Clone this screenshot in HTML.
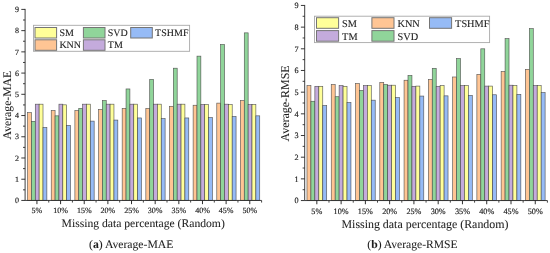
<!DOCTYPE html>
<html><head><meta charset="utf-8"><title>Figure</title>
<style>
html,body{margin:0;padding:0;background:#fff;}
body{width:550px;height:253px;overflow:hidden;}
svg{display:block;}
text{text-rendering:geometricPrecision;stroke:#1c1c1c;stroke-width:0.06px;font-family:"Liberation Serif","Times New Roman",serif;fill:#1c1c1c;}
</style></head><body>
<svg width="550" height="253" viewBox="0 0 550 253">
<rect width="550" height="253" fill="#fff"/>
<rect x="27.58" y="112.66" width="3.86" height="87.79" fill="#FFC594" stroke="#404040" stroke-opacity="0.85" stroke-width="0.65"/>
<rect x="31.44" y="121.34" width="3.86" height="79.11" fill="#90D59A" stroke="#404040" stroke-opacity="0.85" stroke-width="0.65"/>
<rect x="35.30" y="104.19" width="3.86" height="96.26" fill="#C4ABDC" stroke="#404040" stroke-opacity="0.85" stroke-width="0.65"/>
<rect x="39.15" y="104.19" width="3.86" height="96.26" fill="#FFFF99" stroke="#404040" stroke-opacity="0.85" stroke-width="0.65"/>
<rect x="43.01" y="127.47" width="3.86" height="72.98" fill="#96BBF6" stroke="#404040" stroke-opacity="0.85" stroke-width="0.65"/>
<rect x="51.23" y="110.54" width="3.86" height="89.91" fill="#FFC594" stroke="#404040" stroke-opacity="0.85" stroke-width="0.65"/>
<rect x="55.09" y="115.83" width="3.86" height="84.62" fill="#90D59A" stroke="#404040" stroke-opacity="0.85" stroke-width="0.65"/>
<rect x="58.95" y="104.19" width="3.86" height="96.26" fill="#C4ABDC" stroke="#404040" stroke-opacity="0.85" stroke-width="0.65"/>
<rect x="62.80" y="104.83" width="3.86" height="95.62" fill="#FFFF99" stroke="#404040" stroke-opacity="0.85" stroke-width="0.65"/>
<rect x="66.66" y="125.36" width="3.86" height="75.09" fill="#96BBF6" stroke="#404040" stroke-opacity="0.85" stroke-width="0.65"/>
<rect x="74.88" y="110.54" width="3.86" height="89.91" fill="#FFC594" stroke="#404040" stroke-opacity="0.85" stroke-width="0.65"/>
<rect x="78.74" y="108.42" width="3.86" height="92.03" fill="#90D59A" stroke="#404040" stroke-opacity="0.85" stroke-width="0.65"/>
<rect x="82.60" y="104.19" width="3.86" height="96.26" fill="#C4ABDC" stroke="#404040" stroke-opacity="0.85" stroke-width="0.65"/>
<rect x="86.45" y="104.19" width="3.86" height="96.26" fill="#FFFF99" stroke="#404040" stroke-opacity="0.85" stroke-width="0.65"/>
<rect x="90.31" y="121.12" width="3.86" height="79.33" fill="#96BBF6" stroke="#404040" stroke-opacity="0.85" stroke-width="0.65"/>
<rect x="98.53" y="109.48" width="3.86" height="90.97" fill="#FFC594" stroke="#404040" stroke-opacity="0.85" stroke-width="0.65"/>
<rect x="102.39" y="100.59" width="3.86" height="99.86" fill="#90D59A" stroke="#404040" stroke-opacity="0.85" stroke-width="0.65"/>
<rect x="106.25" y="104.19" width="3.86" height="96.26" fill="#C4ABDC" stroke="#404040" stroke-opacity="0.85" stroke-width="0.65"/>
<rect x="110.10" y="104.19" width="3.86" height="96.26" fill="#FFFF99" stroke="#404040" stroke-opacity="0.85" stroke-width="0.65"/>
<rect x="113.96" y="120.07" width="3.86" height="80.38" fill="#96BBF6" stroke="#404040" stroke-opacity="0.85" stroke-width="0.65"/>
<rect x="122.18" y="108.42" width="3.86" height="92.03" fill="#FFC594" stroke="#404040" stroke-opacity="0.85" stroke-width="0.65"/>
<rect x="126.04" y="88.95" width="3.86" height="111.50" fill="#90D59A" stroke="#404040" stroke-opacity="0.85" stroke-width="0.65"/>
<rect x="129.90" y="104.19" width="3.86" height="96.26" fill="#C4ABDC" stroke="#404040" stroke-opacity="0.85" stroke-width="0.65"/>
<rect x="133.75" y="104.19" width="3.86" height="96.26" fill="#FFFF99" stroke="#404040" stroke-opacity="0.85" stroke-width="0.65"/>
<rect x="137.61" y="117.95" width="3.86" height="82.50" fill="#96BBF6" stroke="#404040" stroke-opacity="0.85" stroke-width="0.65"/>
<rect x="145.83" y="108.42" width="3.86" height="92.03" fill="#FFC594" stroke="#404040" stroke-opacity="0.85" stroke-width="0.65"/>
<rect x="149.69" y="79.43" width="3.86" height="121.02" fill="#90D59A" stroke="#404040" stroke-opacity="0.85" stroke-width="0.65"/>
<rect x="153.55" y="104.19" width="3.86" height="96.26" fill="#C4ABDC" stroke="#404040" stroke-opacity="0.85" stroke-width="0.65"/>
<rect x="157.40" y="104.19" width="3.86" height="96.26" fill="#FFFF99" stroke="#404040" stroke-opacity="0.85" stroke-width="0.65"/>
<rect x="161.26" y="118.58" width="3.86" height="81.87" fill="#96BBF6" stroke="#404040" stroke-opacity="0.85" stroke-width="0.65"/>
<rect x="169.48" y="106.31" width="3.86" height="94.14" fill="#FFC594" stroke="#404040" stroke-opacity="0.85" stroke-width="0.65"/>
<rect x="173.34" y="68.21" width="3.86" height="132.24" fill="#90D59A" stroke="#404040" stroke-opacity="0.85" stroke-width="0.65"/>
<rect x="177.20" y="104.19" width="3.86" height="96.26" fill="#C4ABDC" stroke="#404040" stroke-opacity="0.85" stroke-width="0.65"/>
<rect x="181.05" y="104.19" width="3.86" height="96.26" fill="#FFFF99" stroke="#404040" stroke-opacity="0.85" stroke-width="0.65"/>
<rect x="184.91" y="117.95" width="3.86" height="82.50" fill="#96BBF6" stroke="#404040" stroke-opacity="0.85" stroke-width="0.65"/>
<rect x="193.13" y="105.25" width="3.86" height="95.20" fill="#FFC594" stroke="#404040" stroke-opacity="0.85" stroke-width="0.65"/>
<rect x="196.99" y="56.14" width="3.86" height="144.31" fill="#90D59A" stroke="#404040" stroke-opacity="0.85" stroke-width="0.65"/>
<rect x="200.85" y="104.61" width="3.86" height="95.84" fill="#C4ABDC" stroke="#404040" stroke-opacity="0.85" stroke-width="0.65"/>
<rect x="204.70" y="104.61" width="3.86" height="95.84" fill="#FFFF99" stroke="#404040" stroke-opacity="0.85" stroke-width="0.65"/>
<rect x="208.56" y="117.53" width="3.86" height="82.92" fill="#96BBF6" stroke="#404040" stroke-opacity="0.85" stroke-width="0.65"/>
<rect x="216.78" y="103.13" width="3.86" height="97.32" fill="#FFC594" stroke="#404040" stroke-opacity="0.85" stroke-width="0.65"/>
<rect x="220.64" y="44.50" width="3.86" height="155.95" fill="#90D59A" stroke="#404040" stroke-opacity="0.85" stroke-width="0.65"/>
<rect x="224.50" y="104.19" width="3.86" height="96.26" fill="#C4ABDC" stroke="#404040" stroke-opacity="0.85" stroke-width="0.65"/>
<rect x="228.35" y="104.61" width="3.86" height="95.84" fill="#FFFF99" stroke="#404040" stroke-opacity="0.85" stroke-width="0.65"/>
<rect x="232.21" y="116.47" width="3.86" height="83.98" fill="#96BBF6" stroke="#404040" stroke-opacity="0.85" stroke-width="0.65"/>
<rect x="240.43" y="100.59" width="3.86" height="99.86" fill="#FFC594" stroke="#404040" stroke-opacity="0.85" stroke-width="0.65"/>
<rect x="244.29" y="32.86" width="3.86" height="167.59" fill="#90D59A" stroke="#404040" stroke-opacity="0.85" stroke-width="0.65"/>
<rect x="248.15" y="104.61" width="3.86" height="95.84" fill="#C4ABDC" stroke="#404040" stroke-opacity="0.85" stroke-width="0.65"/>
<rect x="252.00" y="104.61" width="3.86" height="95.84" fill="#FFFF99" stroke="#404040" stroke-opacity="0.85" stroke-width="0.65"/>
<rect x="255.86" y="115.83" width="3.86" height="84.62" fill="#96BBF6" stroke="#404040" stroke-opacity="0.85" stroke-width="0.65"/>
<path d="M25.1 8.9V200.45H261.6" fill="none" stroke="#2a2a2a" stroke-width="0.9"/>
<path d="M21.3 200.45H25.1" stroke="#222" stroke-width="0.9"/>
<text x="19.1" y="203.15" text-anchor="end" style="stroke-width:.16px" font-size="8.0">0</text>
<path d="M23.0 189.84H25.1" stroke="#222" stroke-width="0.85"/>
<path d="M21.3 179.22H25.1" stroke="#222" stroke-width="0.9"/>
<text x="19.1" y="181.92" text-anchor="end" style="stroke-width:.16px" font-size="8.0">1</text>
<path d="M23.0 168.61H25.1" stroke="#222" stroke-width="0.85"/>
<path d="M21.3 157.99H25.1" stroke="#222" stroke-width="0.9"/>
<text x="19.1" y="160.69" text-anchor="end" style="stroke-width:.16px" font-size="8.0">2</text>
<path d="M23.0 147.38H25.1" stroke="#222" stroke-width="0.85"/>
<path d="M21.3 136.77H25.1" stroke="#222" stroke-width="0.9"/>
<text x="19.1" y="139.47" text-anchor="end" style="stroke-width:.16px" font-size="8.0">3</text>
<path d="M23.0 126.15H25.1" stroke="#222" stroke-width="0.85"/>
<path d="M21.3 115.54H25.1" stroke="#222" stroke-width="0.9"/>
<text x="19.1" y="118.24" text-anchor="end" style="stroke-width:.16px" font-size="8.0">4</text>
<path d="M23.0 104.93H25.1" stroke="#222" stroke-width="0.85"/>
<path d="M21.3 94.31H25.1" stroke="#222" stroke-width="0.9"/>
<text x="19.1" y="97.01" text-anchor="end" style="stroke-width:.16px" font-size="8.0">5</text>
<path d="M23.0 83.70H25.1" stroke="#222" stroke-width="0.85"/>
<path d="M21.3 73.08H25.1" stroke="#222" stroke-width="0.9"/>
<text x="19.1" y="75.78" text-anchor="end" style="stroke-width:.16px" font-size="8.0">6</text>
<path d="M23.0 62.47H25.1" stroke="#222" stroke-width="0.85"/>
<path d="M21.3 51.86H25.1" stroke="#222" stroke-width="0.9"/>
<text x="19.1" y="54.56" text-anchor="end" style="stroke-width:.16px" font-size="8.0">7</text>
<path d="M23.0 41.24H25.1" stroke="#222" stroke-width="0.85"/>
<path d="M21.3 30.63H25.1" stroke="#222" stroke-width="0.9"/>
<text x="19.1" y="33.33" text-anchor="end" style="stroke-width:.16px" font-size="8.0">8</text>
<path d="M23.0 20.01H25.1" stroke="#222" stroke-width="0.85"/>
<path d="M21.3 9.40H25.1" stroke="#222" stroke-width="0.9"/>
<text x="19.1" y="12.10" text-anchor="end" style="stroke-width:.16px" font-size="8.0">9</text>
<path d="M36.93 200.45V204.14999999999998" stroke="#222" stroke-width="0.95"/>
<text x="36.93" y="213.35" text-anchor="middle" style="stroke-width:.16px" font-size="8.0">5%</text>
<path d="M48.75 200.45V202.54999999999998" stroke="#222" stroke-width="0.85"/>
<path d="M60.58 200.45V204.14999999999998" stroke="#222" stroke-width="0.95"/>
<text x="60.58" y="213.35" text-anchor="middle" style="stroke-width:.16px" font-size="8.0">10%</text>
<path d="M72.40 200.45V202.54999999999998" stroke="#222" stroke-width="0.85"/>
<path d="M84.23 200.45V204.14999999999998" stroke="#222" stroke-width="0.95"/>
<text x="84.23" y="213.35" text-anchor="middle" style="stroke-width:.16px" font-size="8.0">15%</text>
<path d="M96.05 200.45V202.54999999999998" stroke="#222" stroke-width="0.85"/>
<path d="M107.88 200.45V204.14999999999998" stroke="#222" stroke-width="0.95"/>
<text x="107.88" y="213.35" text-anchor="middle" style="stroke-width:.16px" font-size="8.0">20%</text>
<path d="M119.70 200.45V202.54999999999998" stroke="#222" stroke-width="0.85"/>
<path d="M131.53 200.45V204.14999999999998" stroke="#222" stroke-width="0.95"/>
<text x="131.53" y="213.35" text-anchor="middle" style="stroke-width:.16px" font-size="8.0">25%</text>
<path d="M143.35 200.45V202.54999999999998" stroke="#222" stroke-width="0.85"/>
<path d="M155.18 200.45V204.14999999999998" stroke="#222" stroke-width="0.95"/>
<text x="155.18" y="213.35" text-anchor="middle" style="stroke-width:.16px" font-size="8.0">30%</text>
<path d="M167.00 200.45V202.54999999999998" stroke="#222" stroke-width="0.85"/>
<path d="M178.83 200.45V204.14999999999998" stroke="#222" stroke-width="0.95"/>
<text x="178.83" y="213.35" text-anchor="middle" style="stroke-width:.16px" font-size="8.0">35%</text>
<path d="M190.65 200.45V202.54999999999998" stroke="#222" stroke-width="0.85"/>
<path d="M202.48 200.45V204.14999999999998" stroke="#222" stroke-width="0.95"/>
<text x="202.48" y="213.35" text-anchor="middle" style="stroke-width:.16px" font-size="8.0">40%</text>
<path d="M214.30 200.45V202.54999999999998" stroke="#222" stroke-width="0.85"/>
<path d="M226.12 200.45V204.14999999999998" stroke="#222" stroke-width="0.95"/>
<text x="226.12" y="213.35" text-anchor="middle" style="stroke-width:.16px" font-size="8.0">45%</text>
<path d="M237.95 200.45V202.54999999999998" stroke="#222" stroke-width="0.85"/>
<path d="M249.78 200.45V204.14999999999998" stroke="#222" stroke-width="0.95"/>
<text x="249.78" y="213.35" text-anchor="middle" style="stroke-width:.16px" font-size="8.0">50%</text>
<path d="M261.60 200.45V202.54999999999998" stroke="#222" stroke-width="0.85"/>
<text x="143.2" y="226.5" text-anchor="middle" font-size="11.65">Missing data percentage (Random)</text>
<text transform="translate(11.0 105.10) rotate(-90)" text-anchor="middle" font-size="11.7">Average-MAE</text>
<text x="131.2" y="248.3" text-anchor="middle" font-size="11.66"><tspan>(</tspan><tspan font-weight="bold">a</tspan><tspan>) Average-MAE</tspan></text>
<rect x="33.5" y="25.3" width="156.1" height="26.0" fill="#fff" stroke="#a8a8a8" stroke-width="0.9"/>
<rect x="35.00" y="27.50" width="21.60" height="10.50" fill="#FFFF99" stroke="#757575" stroke-width="1.0"/>
<text x="59.40" y="36.00" style="stroke-width:.1px" font-size="10.0">SM</text>
<rect x="83.40" y="27.50" width="21.60" height="10.50" fill="#90D59A" stroke="#757575" stroke-width="1.0"/>
<text x="107.80" y="36.00" style="stroke-width:.1px" font-size="10.0">SVD</text>
<rect x="130.70" y="27.50" width="21.60" height="10.50" fill="#96BBF6" stroke="#757575" stroke-width="1.0"/>
<text x="155.10" y="36.00" style="stroke-width:.1px" font-size="10.0">TSHMF</text>
<rect x="35.00" y="39.80" width="21.60" height="10.50" fill="#FFC594" stroke="#757575" stroke-width="1.0"/>
<text x="59.40" y="48.30" style="stroke-width:.1px" font-size="10.0">KNN</text>
<rect x="83.40" y="39.80" width="21.60" height="10.50" fill="#C4ABDC" stroke="#757575" stroke-width="1.0"/>
<text x="107.80" y="48.30" style="stroke-width:.1px" font-size="10.0">TM</text>
<rect x="306.98" y="85.66" width="3.94" height="114.89" fill="#FFC594" stroke="#404040" stroke-opacity="0.85" stroke-width="0.65"/>
<rect x="310.92" y="101.27" width="3.94" height="99.28" fill="#90D59A" stroke="#404040" stroke-opacity="0.85" stroke-width="0.65"/>
<rect x="314.86" y="86.31" width="3.94" height="114.24" fill="#C4ABDC" stroke="#404040" stroke-opacity="0.85" stroke-width="0.65"/>
<rect x="318.81" y="86.31" width="3.94" height="114.24" fill="#FFFF99" stroke="#404040" stroke-opacity="0.85" stroke-width="0.65"/>
<rect x="322.75" y="105.60" width="3.94" height="94.95" fill="#96BBF6" stroke="#404040" stroke-opacity="0.85" stroke-width="0.65"/>
<rect x="331.25" y="84.57" width="3.94" height="115.98" fill="#FFC594" stroke="#404040" stroke-opacity="0.85" stroke-width="0.65"/>
<rect x="335.19" y="96.71" width="3.94" height="103.84" fill="#90D59A" stroke="#404040" stroke-opacity="0.85" stroke-width="0.65"/>
<rect x="339.13" y="85.66" width="3.94" height="114.89" fill="#C4ABDC" stroke="#404040" stroke-opacity="0.85" stroke-width="0.65"/>
<rect x="343.08" y="86.31" width="3.94" height="114.24" fill="#FFFF99" stroke="#404040" stroke-opacity="0.85" stroke-width="0.65"/>
<rect x="347.02" y="102.57" width="3.94" height="97.98" fill="#96BBF6" stroke="#404040" stroke-opacity="0.85" stroke-width="0.65"/>
<rect x="355.52" y="83.49" width="3.94" height="117.06" fill="#FFC594" stroke="#404040" stroke-opacity="0.85" stroke-width="0.65"/>
<rect x="359.46" y="90.43" width="3.94" height="110.12" fill="#90D59A" stroke="#404040" stroke-opacity="0.85" stroke-width="0.65"/>
<rect x="363.40" y="85.66" width="3.94" height="114.89" fill="#C4ABDC" stroke="#404040" stroke-opacity="0.85" stroke-width="0.65"/>
<rect x="367.35" y="85.66" width="3.94" height="114.89" fill="#FFFF99" stroke="#404040" stroke-opacity="0.85" stroke-width="0.65"/>
<rect x="371.29" y="100.18" width="3.94" height="100.37" fill="#96BBF6" stroke="#404040" stroke-opacity="0.85" stroke-width="0.65"/>
<rect x="379.79" y="82.41" width="3.94" height="118.14" fill="#FFC594" stroke="#404040" stroke-opacity="0.85" stroke-width="0.65"/>
<rect x="383.73" y="84.57" width="3.94" height="115.98" fill="#90D59A" stroke="#404040" stroke-opacity="0.85" stroke-width="0.65"/>
<rect x="387.67" y="85.22" width="3.94" height="115.33" fill="#C4ABDC" stroke="#404040" stroke-opacity="0.85" stroke-width="0.65"/>
<rect x="391.62" y="85.22" width="3.94" height="115.33" fill="#FFFF99" stroke="#404040" stroke-opacity="0.85" stroke-width="0.65"/>
<rect x="395.56" y="97.58" width="3.94" height="102.97" fill="#96BBF6" stroke="#404040" stroke-opacity="0.85" stroke-width="0.65"/>
<rect x="404.06" y="80.24" width="3.94" height="120.31" fill="#FFC594" stroke="#404040" stroke-opacity="0.85" stroke-width="0.65"/>
<rect x="408.00" y="75.47" width="3.94" height="125.08" fill="#90D59A" stroke="#404040" stroke-opacity="0.85" stroke-width="0.65"/>
<rect x="411.94" y="86.31" width="3.94" height="114.24" fill="#C4ABDC" stroke="#404040" stroke-opacity="0.85" stroke-width="0.65"/>
<rect x="415.89" y="86.09" width="3.94" height="114.46" fill="#FFFF99" stroke="#404040" stroke-opacity="0.85" stroke-width="0.65"/>
<rect x="419.83" y="96.06" width="3.94" height="104.49" fill="#96BBF6" stroke="#404040" stroke-opacity="0.85" stroke-width="0.65"/>
<rect x="428.33" y="79.59" width="3.94" height="120.96" fill="#FFC594" stroke="#404040" stroke-opacity="0.85" stroke-width="0.65"/>
<rect x="432.27" y="68.32" width="3.94" height="132.23" fill="#90D59A" stroke="#404040" stroke-opacity="0.85" stroke-width="0.65"/>
<rect x="436.21" y="86.31" width="3.94" height="114.24" fill="#C4ABDC" stroke="#404040" stroke-opacity="0.85" stroke-width="0.65"/>
<rect x="440.16" y="85.66" width="3.94" height="114.89" fill="#FFFF99" stroke="#404040" stroke-opacity="0.85" stroke-width="0.65"/>
<rect x="444.10" y="95.85" width="3.94" height="104.70" fill="#96BBF6" stroke="#404040" stroke-opacity="0.85" stroke-width="0.65"/>
<rect x="452.60" y="76.99" width="3.94" height="123.56" fill="#FFC594" stroke="#404040" stroke-opacity="0.85" stroke-width="0.65"/>
<rect x="456.54" y="58.56" width="3.94" height="141.99" fill="#90D59A" stroke="#404040" stroke-opacity="0.85" stroke-width="0.65"/>
<rect x="460.48" y="85.66" width="3.94" height="114.89" fill="#C4ABDC" stroke="#404040" stroke-opacity="0.85" stroke-width="0.65"/>
<rect x="464.43" y="85.66" width="3.94" height="114.89" fill="#FFFF99" stroke="#404040" stroke-opacity="0.85" stroke-width="0.65"/>
<rect x="468.37" y="95.41" width="3.94" height="105.14" fill="#96BBF6" stroke="#404040" stroke-opacity="0.85" stroke-width="0.65"/>
<rect x="476.87" y="74.39" width="3.94" height="126.16" fill="#FFC594" stroke="#404040" stroke-opacity="0.85" stroke-width="0.65"/>
<rect x="480.81" y="48.81" width="3.94" height="151.74" fill="#90D59A" stroke="#404040" stroke-opacity="0.85" stroke-width="0.65"/>
<rect x="484.75" y="86.09" width="3.94" height="114.46" fill="#C4ABDC" stroke="#404040" stroke-opacity="0.85" stroke-width="0.65"/>
<rect x="488.70" y="86.09" width="3.94" height="114.46" fill="#FFFF99" stroke="#404040" stroke-opacity="0.85" stroke-width="0.65"/>
<rect x="492.64" y="94.76" width="3.94" height="105.79" fill="#96BBF6" stroke="#404040" stroke-opacity="0.85" stroke-width="0.65"/>
<rect x="501.14" y="71.57" width="3.94" height="128.98" fill="#FFC594" stroke="#404040" stroke-opacity="0.85" stroke-width="0.65"/>
<rect x="505.08" y="38.62" width="3.94" height="161.93" fill="#90D59A" stroke="#404040" stroke-opacity="0.85" stroke-width="0.65"/>
<rect x="509.02" y="85.22" width="3.94" height="115.33" fill="#C4ABDC" stroke="#404040" stroke-opacity="0.85" stroke-width="0.65"/>
<rect x="512.97" y="85.66" width="3.94" height="114.89" fill="#FFFF99" stroke="#404040" stroke-opacity="0.85" stroke-width="0.65"/>
<rect x="516.91" y="94.33" width="3.94" height="106.22" fill="#96BBF6" stroke="#404040" stroke-opacity="0.85" stroke-width="0.65"/>
<rect x="525.41" y="69.40" width="3.94" height="131.15" fill="#FFC594" stroke="#404040" stroke-opacity="0.85" stroke-width="0.65"/>
<rect x="529.35" y="28.65" width="3.94" height="171.90" fill="#90D59A" stroke="#404040" stroke-opacity="0.85" stroke-width="0.65"/>
<rect x="533.29" y="85.66" width="3.94" height="114.89" fill="#C4ABDC" stroke="#404040" stroke-opacity="0.85" stroke-width="0.65"/>
<rect x="537.24" y="85.66" width="3.94" height="114.89" fill="#FFFF99" stroke="#404040" stroke-opacity="0.85" stroke-width="0.65"/>
<rect x="541.18" y="92.59" width="3.94" height="107.96" fill="#96BBF6" stroke="#404040" stroke-opacity="0.85" stroke-width="0.65"/>
<path d="M304.7 4.95V200.55H547.4" fill="none" stroke="#2a2a2a" stroke-width="0.9"/>
<path d="M300.9 200.55H304.7" stroke="#222" stroke-width="0.9"/>
<text x="298.7" y="203.25" text-anchor="end" style="stroke-width:.16px" font-size="8.2">0</text>
<path d="M302.59999999999997 189.71H304.7" stroke="#222" stroke-width="0.85"/>
<path d="M300.9 178.87H304.7" stroke="#222" stroke-width="0.9"/>
<text x="298.7" y="181.57" text-anchor="end" style="stroke-width:.16px" font-size="8.2">1</text>
<path d="M302.59999999999997 168.03H304.7" stroke="#222" stroke-width="0.85"/>
<path d="M300.9 157.19H304.7" stroke="#222" stroke-width="0.9"/>
<text x="298.7" y="159.89" text-anchor="end" style="stroke-width:.16px" font-size="8.2">2</text>
<path d="M302.59999999999997 146.36H304.7" stroke="#222" stroke-width="0.85"/>
<path d="M300.9 135.52H304.7" stroke="#222" stroke-width="0.9"/>
<text x="298.7" y="138.22" text-anchor="end" style="stroke-width:.16px" font-size="8.2">3</text>
<path d="M302.59999999999997 124.68H304.7" stroke="#222" stroke-width="0.85"/>
<path d="M300.9 113.84H304.7" stroke="#222" stroke-width="0.9"/>
<text x="298.7" y="116.54" text-anchor="end" style="stroke-width:.16px" font-size="8.2">4</text>
<path d="M302.59999999999997 103.00H304.7" stroke="#222" stroke-width="0.85"/>
<path d="M300.9 92.16H304.7" stroke="#222" stroke-width="0.9"/>
<text x="298.7" y="94.86" text-anchor="end" style="stroke-width:.16px" font-size="8.2">5</text>
<path d="M302.59999999999997 81.32H304.7" stroke="#222" stroke-width="0.85"/>
<path d="M300.9 70.48H304.7" stroke="#222" stroke-width="0.9"/>
<text x="298.7" y="73.18" text-anchor="end" style="stroke-width:.16px" font-size="8.2">6</text>
<path d="M302.59999999999997 59.64H304.7" stroke="#222" stroke-width="0.85"/>
<path d="M300.9 48.81H304.7" stroke="#222" stroke-width="0.9"/>
<text x="298.7" y="51.51" text-anchor="end" style="stroke-width:.16px" font-size="8.2">7</text>
<path d="M302.59999999999997 37.97H304.7" stroke="#222" stroke-width="0.85"/>
<path d="M300.9 27.13H304.7" stroke="#222" stroke-width="0.9"/>
<text x="298.7" y="29.83" text-anchor="end" style="stroke-width:.16px" font-size="8.2">8</text>
<path d="M302.59999999999997 16.29H304.7" stroke="#222" stroke-width="0.85"/>
<path d="M300.9 5.45H304.7" stroke="#222" stroke-width="0.9"/>
<text x="298.7" y="8.15" text-anchor="end" style="stroke-width:.16px" font-size="8.2">9</text>
<path d="M316.83 200.55V204.25" stroke="#222" stroke-width="0.95"/>
<text x="316.83" y="214.05" text-anchor="middle" style="stroke-width:.16px" font-size="8.2">5%</text>
<path d="M328.97 200.55V202.65" stroke="#222" stroke-width="0.85"/>
<path d="M341.11 200.55V204.25" stroke="#222" stroke-width="0.95"/>
<text x="341.11" y="214.05" text-anchor="middle" style="stroke-width:.16px" font-size="8.2">10%</text>
<path d="M353.24 200.55V202.65" stroke="#222" stroke-width="0.85"/>
<path d="M365.38 200.55V204.25" stroke="#222" stroke-width="0.95"/>
<text x="365.38" y="214.05" text-anchor="middle" style="stroke-width:.16px" font-size="8.2">15%</text>
<path d="M377.51 200.55V202.65" stroke="#222" stroke-width="0.85"/>
<path d="M389.64 200.55V204.25" stroke="#222" stroke-width="0.95"/>
<text x="389.64" y="214.05" text-anchor="middle" style="stroke-width:.16px" font-size="8.2">20%</text>
<path d="M401.78 200.55V202.65" stroke="#222" stroke-width="0.85"/>
<path d="M413.91 200.55V204.25" stroke="#222" stroke-width="0.95"/>
<text x="413.91" y="214.05" text-anchor="middle" style="stroke-width:.16px" font-size="8.2">25%</text>
<path d="M426.05 200.55V202.65" stroke="#222" stroke-width="0.85"/>
<path d="M438.18 200.55V204.25" stroke="#222" stroke-width="0.95"/>
<text x="438.18" y="214.05" text-anchor="middle" style="stroke-width:.16px" font-size="8.2">30%</text>
<path d="M450.32 200.55V202.65" stroke="#222" stroke-width="0.85"/>
<path d="M462.45 200.55V204.25" stroke="#222" stroke-width="0.95"/>
<text x="462.45" y="214.05" text-anchor="middle" style="stroke-width:.16px" font-size="8.2">35%</text>
<path d="M474.59 200.55V202.65" stroke="#222" stroke-width="0.85"/>
<path d="M486.73 200.55V204.25" stroke="#222" stroke-width="0.95"/>
<text x="486.73" y="214.05" text-anchor="middle" style="stroke-width:.16px" font-size="8.2">40%</text>
<path d="M498.86 200.55V202.65" stroke="#222" stroke-width="0.85"/>
<path d="M511.00 200.55V204.25" stroke="#222" stroke-width="0.95"/>
<text x="511.00" y="214.05" text-anchor="middle" style="stroke-width:.16px" font-size="8.2">45%</text>
<path d="M523.13 200.55V202.65" stroke="#222" stroke-width="0.85"/>
<path d="M535.26 200.55V204.25" stroke="#222" stroke-width="0.95"/>
<text x="535.26" y="214.05" text-anchor="middle" style="stroke-width:.16px" font-size="8.2">50%</text>
<path d="M547.40 200.55V202.65" stroke="#222" stroke-width="0.85"/>
<text x="425.0" y="228.3" text-anchor="middle" font-size="11.92">Missing data percentage (Random)</text>
<text transform="translate(289.2 103.45) rotate(-90)" text-anchor="middle" font-size="11.96">Average-RMSE</text>
<text x="412.5" y="247.8" text-anchor="middle" font-size="11.6"><tspan>(</tspan><tspan font-weight="bold">b</tspan><tspan>) Average-RMSE</tspan></text>
<rect x="314.5" y="16.2" width="175.1" height="26.4" fill="#fff" stroke="#a8a8a8" stroke-width="0.9"/>
<rect x="316.50" y="17.70" width="22.10" height="10.60" fill="#FFFF99" stroke="#757575" stroke-width="1.0"/>
<text x="342.10" y="26.90" style="stroke-width:.1px" font-size="10.3">SM</text>
<rect x="371.90" y="17.70" width="22.10" height="10.60" fill="#FFC594" stroke="#757575" stroke-width="1.0"/>
<text x="397.50" y="26.90" style="stroke-width:.1px" font-size="10.3">KNN</text>
<rect x="429.50" y="17.70" width="22.10" height="10.60" fill="#96BBF6" stroke="#757575" stroke-width="1.0"/>
<text x="455.10" y="26.90" style="stroke-width:.1px" font-size="10.3">TSHMF</text>
<rect x="316.50" y="30.60" width="22.10" height="10.60" fill="#C4ABDC" stroke="#757575" stroke-width="1.0"/>
<text x="342.10" y="39.80" style="stroke-width:.1px" font-size="10.3">TM</text>
<rect x="371.90" y="30.60" width="22.10" height="10.60" fill="#90D59A" stroke="#757575" stroke-width="1.0"/>
<text x="397.50" y="39.80" style="stroke-width:.1px" font-size="10.3">SVD</text>
</svg>
</body></html>
